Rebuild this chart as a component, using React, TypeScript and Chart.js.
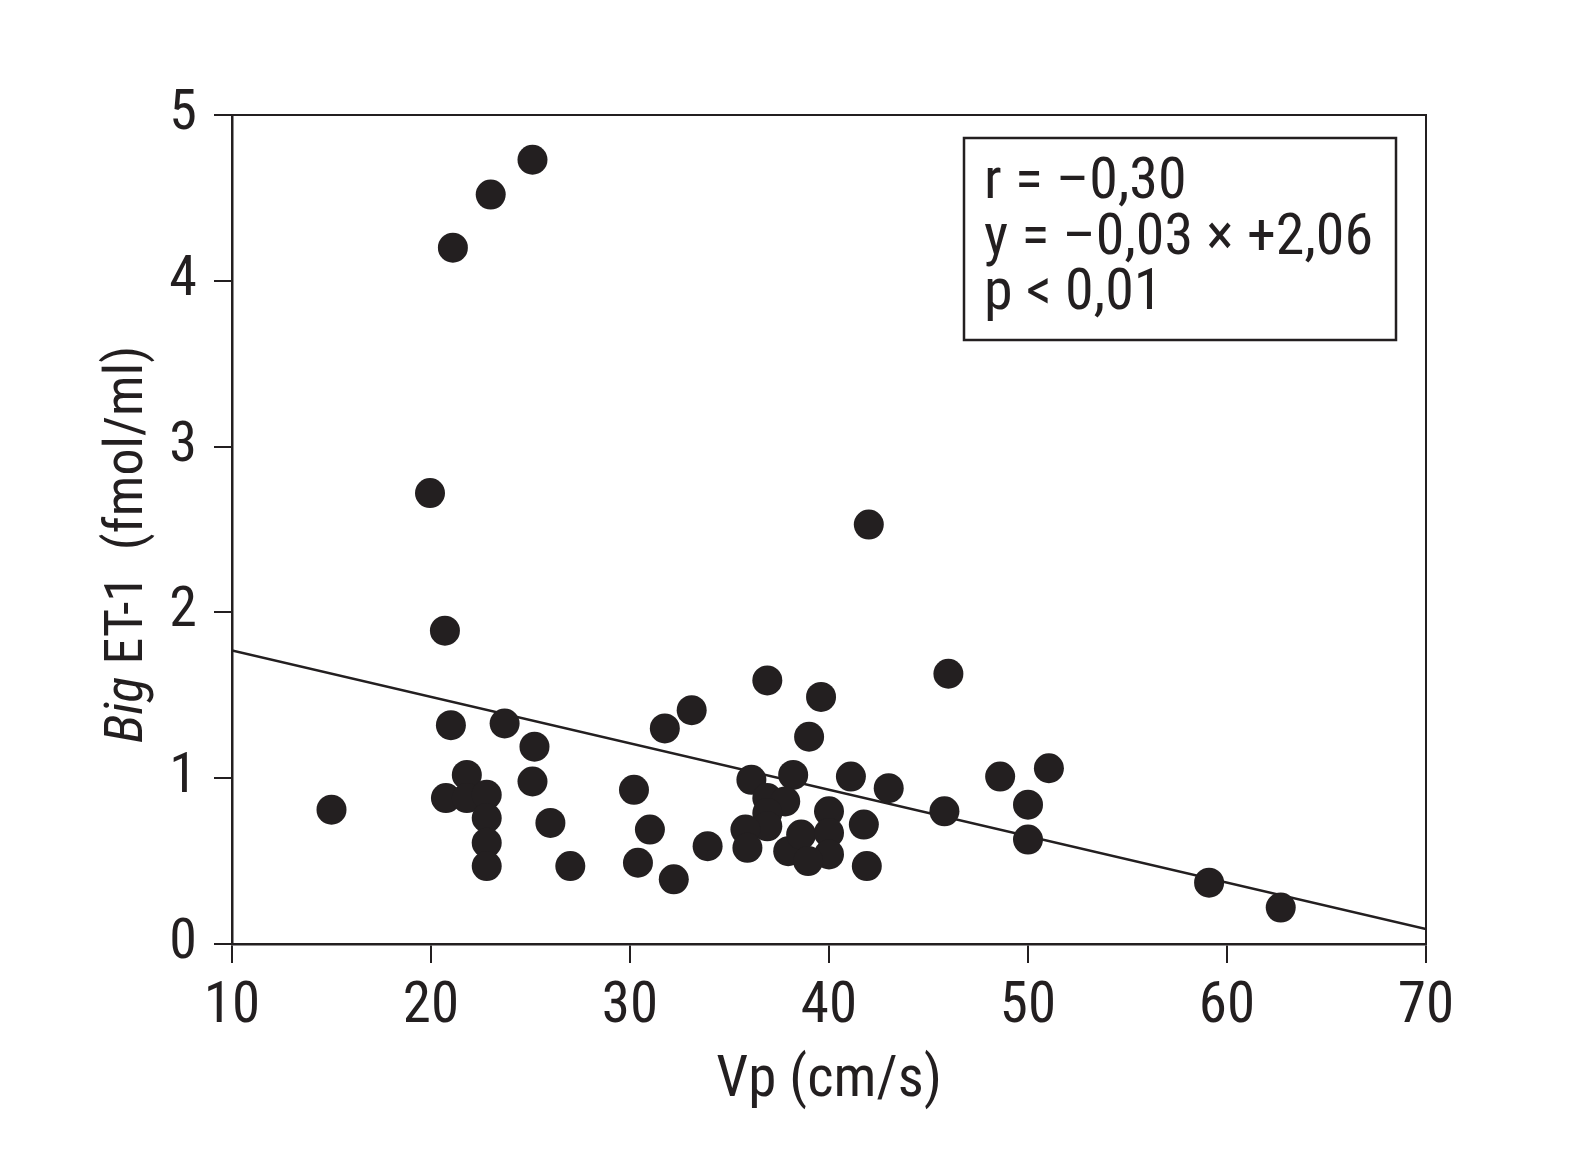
import React, { useEffect, useRef } from "react";
import { Chart, registerables } from "chart.js";

Chart.register(...registerables);

// Data: Vp (cm/s) vs Big ET-1 (fmol/ml)
const vpValues: number[] = [
  15.0, 19.95, 21.1, 23.0, 25.1, 20.7, 21.0, 23.7, 25.2, 25.1,
  21.8, 20.75, 21.8, 22.8, 22.8, 22.8, 22.8, 26.0, 27.0, 30.2,
  31.0, 30.4, 32.2, 31.75, 33.1, 33.9, 36.9, 39.6, 39.0, 36.1,
  38.2, 36.9, 37.8, 36.9, 36.9, 35.8, 35.9, 37.95, 38.6, 40.0,
  40.0, 40.0, 38.95, 41.1, 41.75, 41.9, 43.0, 45.8, 46.0, 48.6,
  51.05, 50.0, 50.0, 59.1, 62.7, 42.0,
];
const et1Values: number[] = [
  0.81, 2.72, 4.20, 4.52, 4.73, 1.89, 1.32, 1.33, 1.19, 0.98,
  1.02, 0.88, 0.88, 0.90, 0.76, 0.61, 0.47, 0.73, 0.47, 0.93,
  0.69, 0.49, 0.39, 1.30, 1.41, 0.59, 1.59, 1.49, 1.25, 0.99,
  1.02, 0.88, 0.86, 0.79, 0.71, 0.69, 0.58, 0.56, 0.66, 0.80,
  0.67, 0.54, 0.50, 1.01, 0.72, 0.47, 0.94, 0.80, 1.63, 1.01,
  1.06, 0.84, 0.63, 0.37, 0.22, 2.53,
];

// Regression line end points (as drawn)
const fitX: number[] = [10, 70];
const fitY: number[] = [1.77, 0.09];

const xTicks: number[] = [10, 20, 30, 40, 50, 60, 70];
const yTicks: number[] = [0, 1, 2, 3, 4, 5];

const statsLines: string[] = ["r = –0,30", "y = –0,03 × +2,06", "p < 0,01"];
const xTitle = "Vp (cm/s)";
const yTitleItalic = "Big";
const yTitleRest = " ET-1  (fmol/ml)";

const FONT = "'Liberation Sans Narrow', 'Roboto Condensed', 'DejaVu Sans Condensed', 'Liberation Sans', sans-serif";
const INK = "#231f20";

const framePlugin = {
  id: "frameAndNotes",
  afterDraw(chart: any) {
    const { ctx, chartArea } = chart;
    const { left, top, right, bottom } = chartArea;
    ctx.save();
    // frame
    ctx.strokeStyle = INK;
    ctx.lineWidth = 2;
    ctx.beginPath();
    ctx.moveTo(left, top);
    ctx.lineTo(right, top);
    ctx.lineTo(right, bottom);
    ctx.stroke();

    // stats box
    const bx = left + 732;
    const by = top + 23;
    const bw = 432;
    const bh = 202;
    ctx.lineWidth = 2.5;
    ctx.strokeRect(bx, by, bw, bh);
    ctx.fillStyle = INK;
    ctx.font = `58px ${FONT}`;
    ctx.textAlign = "left";
    ctx.textBaseline = "alphabetic";
    statsLines.forEach((s, i) => {
      ctx.fillText(s, bx + 20, by + 60 + i * 55.5);
    });

    // y title with italic "Big"
    const cy = (top + bottom) / 2 + 15;
    ctx.translate(142, cy);
    ctx.rotate(-Math.PI / 2);
    const italicFont = `italic 54px ${FONT}`;
    const normalFont = `54px ${FONT}`;
    ctx.font = italicFont;
    const w1 = ctx.measureText(yTitleItalic).width;
    ctx.font = normalFont;
    const w2 = ctx.measureText(yTitleRest).width;
    const start = -(w1 + w2) / 2;
    ctx.font = italicFont;
    ctx.fillText(yTitleItalic, start, 0);
    ctx.font = normalFont;
    ctx.fillText(yTitleRest, start + w1, 0);
    ctx.restore();
  },
};

export default function App() {
  const ref = useRef<HTMLCanvasElement | null>(null);

  useEffect(() => {
    document.body.style.margin = "0";
    const canvas = ref.current;
    if (!canvas) return;
    const points = vpValues.map((x, i) => ({ x, y: et1Values[i] }));
    const fit = fitX.map((x, i) => ({ x, y: fitY[i] }));
    const chart = new Chart(canvas, {
      type: "scatter",
      data: {
        datasets: [
          {
            type: "line",
            data: fit,
            borderColor: INK,
            borderWidth: 2.5,
            pointRadius: 0,
            fill: false,
            order: 2,
          } as any,
          {
            type: "scatter",
            data: points,
            backgroundColor: INK,
            borderColor: INK,
            borderWidth: 0,
            pointRadius: 15,
            order: 1,
          },
        ],
      },
      options: {
        responsive: false,
        animation: false,
        events: [],
        layout: { padding: { top: 115, right: 149, left: 0, bottom: 0 } },
        plugins: {
          legend: { display: false },
          tooltip: { enabled: false },
          title: { display: false },
        },
        scales: {
          x: {
            type: "linear",
            min: 10,
            max: 70,
            afterBuildTicks: (s: any) => {
              s.ticks = xTicks.map((v) => ({ value: v }));
            },
            afterFit: (s: any) => {
              s.height = 232;
            },
            grid: {
              drawOnChartArea: false,
              drawTicks: true,
              tickLength: 19,
              lineWidth: 2,
              color: INK,
            },
            border: { display: true, color: INK, width: 2.5 },
            ticks: {
              color: INK,
              padding: 11,
              maxRotation: 0,
              autoSkip: false,
              font: { family: FONT, size: 57 },
            },
            title: {
              display: true,
              text: xTitle,
              color: INK,
              font: { family: FONT, size: 57 },
              padding: { top: 0, bottom: 60 },
            },
          },
          y: {
            type: "linear",
            min: 0,
            max: 5,
            afterBuildTicks: (s: any) => {
              s.ticks = yTicks.map((v) => ({ value: v }));
            },
            afterFit: (s: any) => {
              s.width = 232;
            },
            grid: {
              drawOnChartArea: false,
              drawTicks: true,
              tickLength: 18,
              lineWidth: 2,
              color: INK,
            },
            border: { display: true, color: INK, width: 2.5 },
            ticks: {
              color: INK,
              padding: 17,
              autoSkip: false,
              font: { family: FONT, size: 56 },
            },
            title: { display: false },
          },
        },
      },
      plugins: [framePlugin],
    });
    return () => chart.destroy();
  }, []);

  return (
    <div style={{ width: 1575, height: 1176, background: "#fff" }}>
      <canvas ref={ref} width={1575} height={1176} style={{ display: "block" }} />
    </div>
  );
}
